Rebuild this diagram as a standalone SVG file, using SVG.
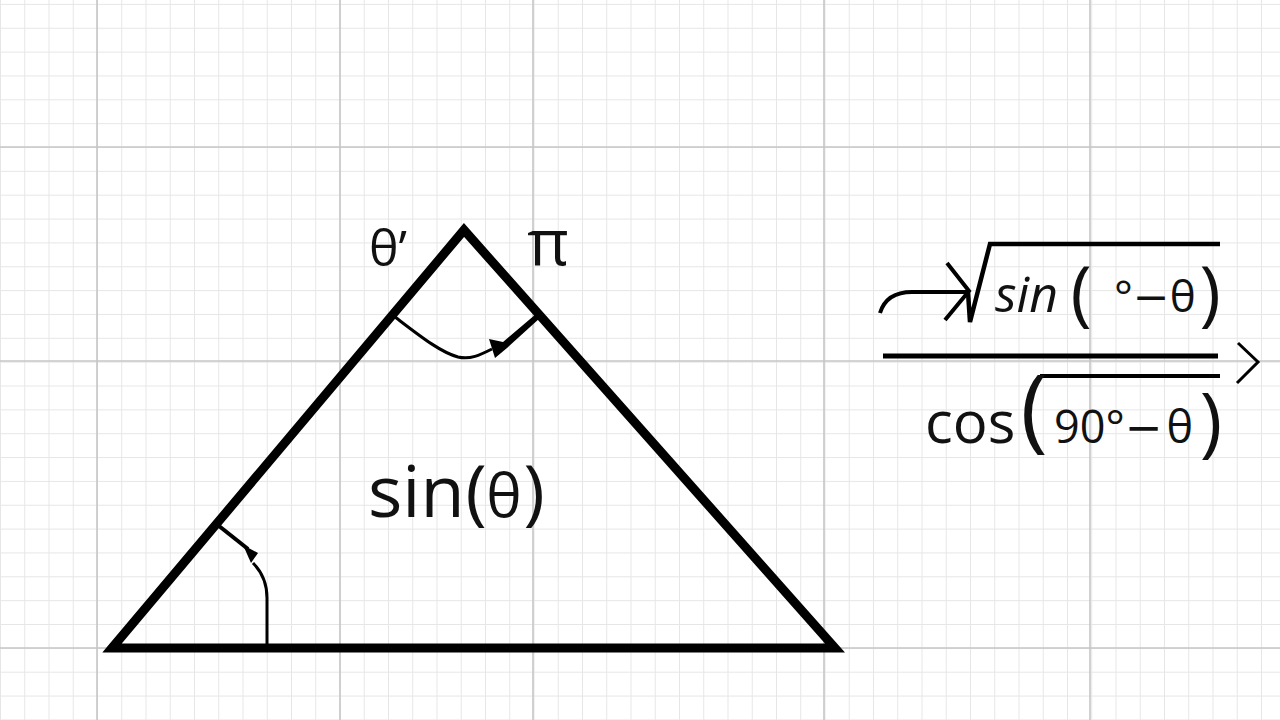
<svg xmlns="http://www.w3.org/2000/svg" width="1280" height="720" viewBox="0 0 1280 720">
<defs>
<pattern id="minor" patternUnits="userSpaceOnUse" x="0" y="3.9" width="24.25" height="23.85">
<path d="M0.5,0 V23.85 M0,0.5 H24.25" fill="none" stroke="#e6e6e6" stroke-width="1"/>
</pattern>
<style>
.major{stroke:#c6c6c6;stroke-width:1.6;fill:none}
.ink{stroke:#000;fill:none;stroke-linecap:butt}
.t{font-family:"Open Sans","Noto Sans","DejaVu Sans",sans-serif;fill:#111}
.m{font-family:"DejaVu Sans","Noto Sans",sans-serif}
</style>
</defs>
<rect width="1280" height="720" fill="#ffffff"/>
<g id="grid">
<rect width="1280" height="720" fill="url(#minor)"/>
<path class="major" d="M97,0 V720 M340,0 V720 M533,0 V720 M824,0 V720 M1090,0 V720 M0,147 H1280 M0,361 H1280 M0,648 H1280"/>
</g>
<g id="triangle">
<polygon points="112,648 464,230 835,648" fill="none" stroke="#000" stroke-width="9" stroke-linejoin="miter" stroke-miterlimit="10"/>
</g>
<g id="angle-marks">
<path class="ink" stroke-width="3" d="M395,317 C420,336 440,352 458,357 C470,360 480,355 492,349"/>
<path d="M489,339 L495,358 L507,348 L540,318 L536,314 L503,342 Z" fill="#000"/>
<path class="ink" stroke-width="4" d="M219,526 L248,549"/>
<polygon points="243,545 258,553 251,563" fill="#000"/>
<path class="ink" stroke-width="3" d="M253,563 C262,572 267,582 267,598 L267,646"/>
</g>
<g id="labels">
<text class="t" x="369" y="266" font-size="50">θ’</text>
<text class="t" x="548" y="265" font-size="64" text-anchor="middle">π</text>
<text class="t" x="368" y="517" font-size="72">sin</text>
<text class="t" x="476" y="517" font-size="72" text-anchor="middle">(</text>
<text class="t" x="504" y="517" font-size="60" text-anchor="middle">θ</text>
<text class="t" x="534" y="517" font-size="72" text-anchor="middle">)</text>
</g>
<g id="formula">
<path class="ink" stroke-width="4" d="M880,313 C884,300 894,292 912,292 L967,292"/>
<path class="ink" stroke-width="4" stroke-linejoin="miter" d="M947,263 L969,291 L945,320"/>
<path class="ink" stroke-width="4.5" stroke-linejoin="miter" d="M968,292 L970,322 L990,244 L1220,244"/>
<text class="t" x="995" y="312" font-size="50" font-style="italic">sin</text>
<text class="t" x="1081" y="318" font-size="72" text-anchor="middle">(</text>
<text class="t" x="1114" y="312" font-size="44">°<tspan class="m">−</tspan>θ</text>
<text class="t" x="1210" y="318" font-size="72" text-anchor="middle">)</text>
<path class="ink" stroke-width="5" d="M883,356 H1218"/>
<path class="ink" stroke-width="3" stroke-linejoin="miter" d="M1238,343 L1258,362 L1237,383"/>
<path class="ink" stroke-width="4" d="M1040,376 H1220"/>
<text class="t" x="925" y="443" font-size="58">cos</text>
<text class="t" x="1034" y="440" font-size="92" text-anchor="middle">(</text>
<text class="t" x="1054" y="443" font-size="45">90°<tspan class="m">−</tspan><tspan dx="4">θ</tspan></text>
<text class="t" x="1211" y="448" font-size="76" text-anchor="middle">)</text>
</g>
</svg>
